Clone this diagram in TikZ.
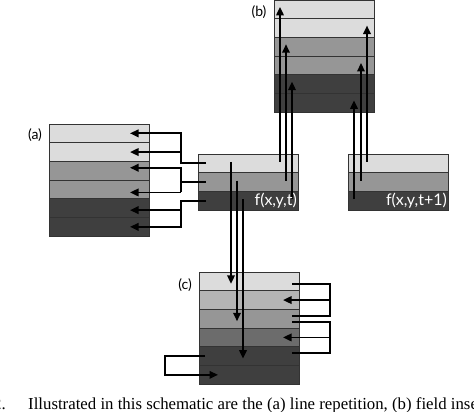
\documentclass[tikz,border=0pt]{standalone}
\usepackage{fontspec}
\setmainfont{Liberation Serif}
\newfontfamily\labelfont{Lato}
\usetikzlibrary{arrows.meta}

\definecolor{graylight}{HTML}{DCDCDC}
\definecolor{grayhi}{HTML}{B4B4B4}
\definecolor{graymid}{HTML}{969696}
\definecolor{graylo}{HTML}{6C6C6C}
\definecolor{graydark}{HTML}{3F3F3F}

\tikzset{
  strip/.style={draw=black!80,line width=0.8pt,minimum width=100pt,minimum height=18.7pt,
    inner sep=0pt,outer sep=0pt,anchor=north west},
  link/.style={line width=1.8pt},
  lbl/.style={font=\labelfont\fontsize{14}{14}\selectfont,inner sep=0pt},
  fname/.style={font=\labelfont\fontsize{16}{16}\selectfont,text=white,anchor=east,inner sep=1pt},
  capt/.style={inner sep=0pt,font=\fontsize{16.8}{16.8}\selectfont},
}

\begin{document}
\begin{tikzpicture}[x=1pt,y=-1pt,>={Triangle[length=8.5pt,width=7.5pt]}]
  \useasboundingbox (0,0) rectangle (474,412);

  \foreach \i/\c in {1/graylight,2/graylight,3/graymid,4/graymid,5/graydark,6/graydark} {
    \node[strip,fill=\c] (a\i) at (49,{124+(\i-1)*18.7}) {};
    \node[strip,fill=\c] (b\i) at (274,{(\i-1)*18.7}) {};
  }
  \foreach \i/\c in {1/graylight,2/grayhi,3/graymid,4/graylo,5/graydark,6/graydark}
    \node[strip,fill=\c] (c\i) at (199,{272+(\i-1)*18.7}) {};
  \foreach \i/\c in {1/graylight,2/graymid,3/graydark} {
    \node[strip,fill=\c] (t\i) at (198,{154+(\i-1)*18.7}) {};
    \node[strip,fill=\c] (u\i) at (348,{154+(\i-1)*18.7}) {};
  }

  % columns of the connectors
  \coordinate (tsrc) at (206,0);
  \coordinate (abr) at (181,0);
  \coordinate (atip) at (130,0);
  \coordinate (csrc) at (292,0);
  \coordinate (cbr) at (330,0);
  \coordinate (ctip) at (283,0);
  \coordinate (clsrc) at (205,0);
  \coordinate (clbr) at (165,0);
  \coordinate (cltip) at (218,0);

  % (a) line repetition
  \draw[link,->] (tsrc |- t1.center) -| (abr |- a1.center) -- (atip |- a1.center);
  \draw[link,->] (abr |- a2.center) -- (atip |- a2.center);
  \draw[link] (tsrc |- t2.center) -- (abr |- t2.center);
  \draw[link,->] ([yshift=-3pt]abr |- a4.center) -- ([yshift=3pt]abr |- a3.center) -- ([yshift=3pt]atip |- a3.center);
  \draw[link,->] ([yshift=-3pt]abr |- a4.center) -- ([yshift=-3pt]atip |- a4.center);
  \draw[link,->] (tsrc |- t3.center) -| (abr |- a6.center) -- (atip |- a6.center);
  \draw[link,->] ([yshift=-2pt]abr |- a5.center) -- ([yshift=-2pt]atip |- a5.center);

  % (b) field insertion
  \foreach \x/\s/\d in {280/t1/b1,286/t2/b3,292/t3/b5,367/u1/b2,361/u2/b4,354/u3/b6} {
    \coordinate (col) at (\x,0);
    \draw[link,->,shorten >=-2.5pt] ([yshift=1.5pt]col |- \s.center) -- (col |- \d.center);
  }

  % (c) vertical interpolation
  \foreach \x/\s/\d in {231/t1/c1,237/t2/c3,243/t3/c5} {
    \coordinate (col) at (\x,0);
    \draw[link,->,shorten >=-2.5pt] ([yshift=1.5pt]col |- \s.center) -- (col |- \d.center);
  }
  \draw[link] ([yshift=-3pt]csrc |- c1.center) -| ([yshift=3pt]cbr |- c3.center) -- ([yshift=3pt]csrc |- c3.center);
  \draw[link,->] (cbr |- c2.center) -- (ctip |- c2.center);
  \draw[link] ([yshift=-3pt]csrc |- c3.center) -| ([yshift=3pt]cbr |- c5.center) -- ([yshift=3pt]csrc |- c5.center);
  \draw[link,->] (cbr |- c4.center) -- (ctip |- c4.center);
  \draw[link,->] (clsrc |- c5.center) -| (clbr |- c6.center) -- (cltip |- c6.center);

  \node[fname] (ft) at (t3.east) {f(x,y,t)};
  \node[fname] (fu) at (u3.east) {f(x,y,t+1)};

  \node[lbl] (la) at (35,135) {(a)};
  \node[lbl] (lb) at (259,12) {(b)};
  \node[lbl] (lc) at (185,285) {(c)};

  \node[capt,anchor=base east] (fignum) at (6,409) {2.};
  \node[capt,anchor=base west] (caption) at (28,409)
    {Illustrated in this schematic are the (a) line repetition, (b) field inse};
\end{tikzpicture}
\end{document}
